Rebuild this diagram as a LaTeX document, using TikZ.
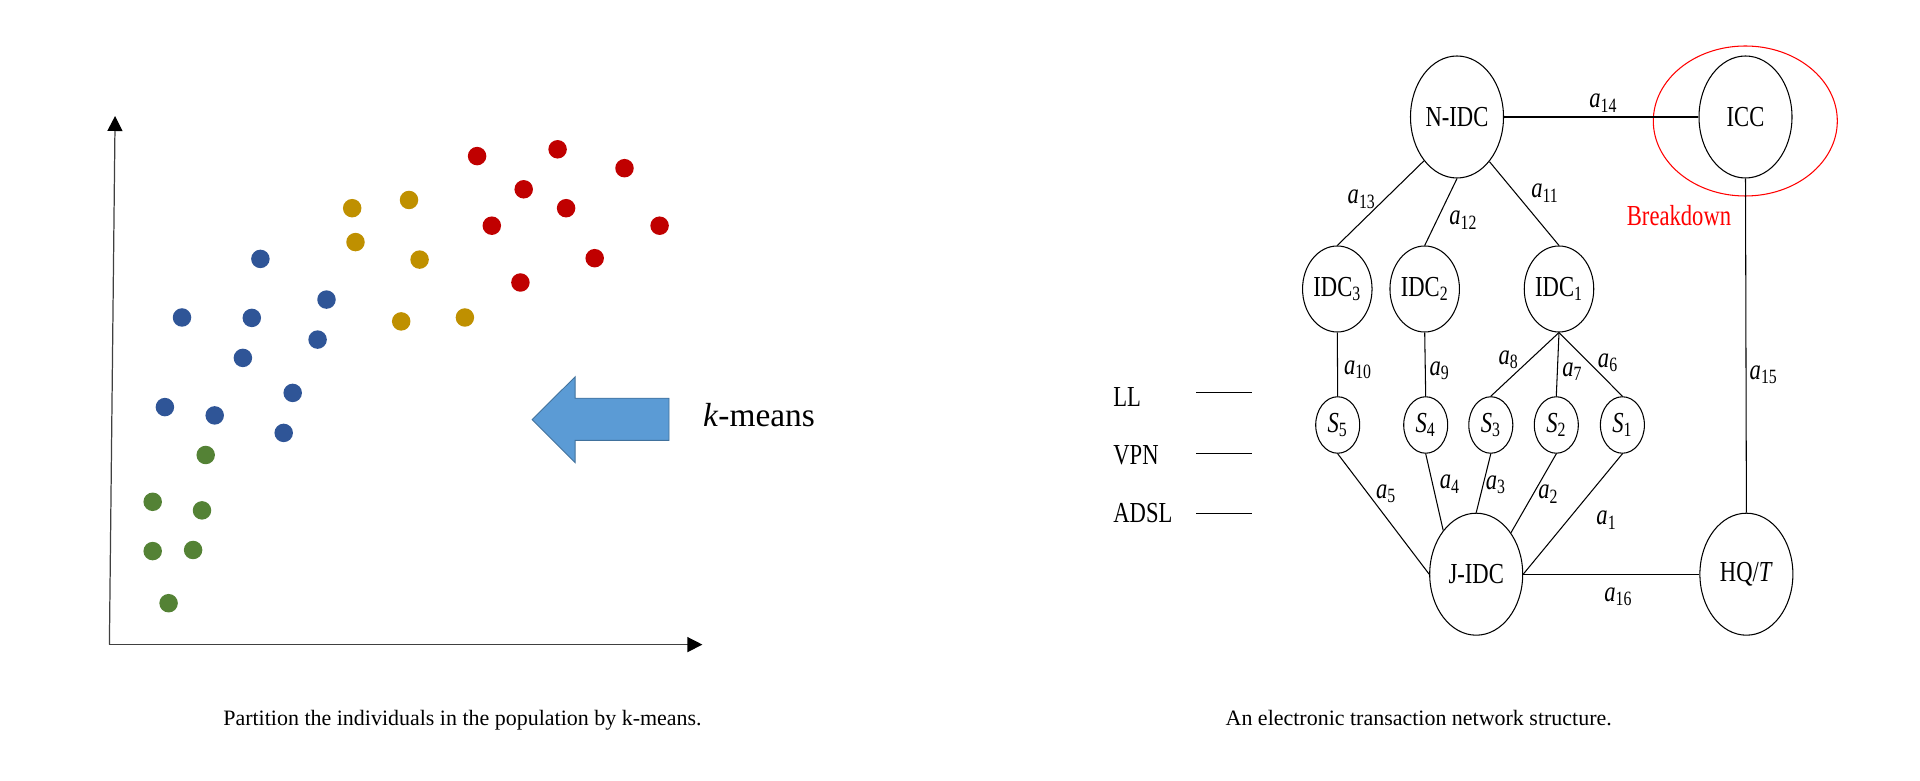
\documentclass[tikz,border=0pt]{standalone}
\usepackage{fontspec}
\setmainfont{Liberation Serif}
\newfontfamily\netfont[FakeStretch=0.78]{Liberation Serif}
\usetikzlibrary{shapes.geometric,arrows.meta}

\definecolor{dotred}{HTML}{C00000}
\definecolor{dotgold}{HTML}{BF9000}
\definecolor{dotblue}{HTML}{2F5597}
\definecolor{dotgreen}{HTML}{548235}
\definecolor{arrowfill}{HTML}{5B9BD5}
\definecolor{arrowline}{HTML}{41719C}

\newcommand{\lnk}[1]{\textit{a}\textsubscript{#1}}

\tikzset{
	axis/.style={draw=black!75, line width=0.7pt, -{Triangle[length=3mm,width=3mm,black]}},
	site/.style={ellipse, draw, line width=0.6pt, inner sep=0pt, font=\netfont\fontsize{16.5}{18}\selectfont},
	bigsite/.style={site, minimum width=18.6mm, minimum height=24.4mm},
	idcsite/.style={site, minimum width=13.9mm, minimum height=17.2mm},
	ssite/.style={site, minimum width=8.8mm, minimum height=11.3mm},
	link/.style={draw, line width=0.6pt},
	lbl/.style={inner sep=0pt, font=\netfont\fontsize{16.5}{18}\selectfont},
	caption/.style={inner sep=0pt, anchor=base, font=\fontsize{12.5}{14}\selectfont},
}

\begin{document}
\begin{tikzpicture}[x=0.2mm, y=-0.2mm]
\useasboundingbox (0,0) rectangle (1920,781);

%% k-means
\begin{scope}
	%% Koordinatensystem
	\coordinate (O) at (109.4,644.6);
	\draw[axis] (O) -- (115.1,116);
	\draw[axis] (O) -- (702.4,644.6);

	%% Punkte
	\foreach \p in {(477.1,156.1),(557.6,149.3),(624.5,168.2),(523.7,189.3),(566.1,208.2),(491.8,225.7),(659.6,225.7),(594.7,258.2),(520.4,282.5)}
		\fill[dotred] \p circle[radius=1.85mm];
	\foreach \p in {(352.2,208.2),(409,200),(355.5,242.1),(419.6,259.6),(401.2,321.4),(464.9,317.5)}
		\fill[dotgold] \p circle[radius=1.85mm];
	\foreach \p in {(260.4,258.9),(326.5,299.6),(182,317.5),(251.8,317.9),(317.6,339.6),(242.9,357.9),(292.7,392.9),(164.9,407.1),(214.7,415.4),(283.7,432.9)}
		\fill[dotblue] \p circle[radius=1.85mm];
	\foreach \p in {(205.7,455),(152.7,501.8),(202,510.4),(152.7,551.1),(193.1,550),(168.6,603.2)}
		\fill[dotgreen] \p circle[radius=1.85mm];

	%% Pfeil
	\draw[fill=arrowfill, draw=arrowline, line width=0.5pt] (532.2,419.6) -- (575.1,376.8) -- (575.1,398.2) -- (669,398.2) -- (669,440.4) -- (575.1,440.4) -- (575.1,462.5) -- cycle;
	\node[font=\fontsize{19}{22}\selectfont, inner sep=0pt, anchor=base] (kmeans) at (759,426.7) {\textit{k}-means};

	\node[caption] (cap1) at (462.5,726) {Partition the individuals in the population by k-means.};
\end{scope}


%% Netz
\begin{scope}
	%% Knoten
	\node[bigsite] (nidc) at (1457,117) {N-IDC};
	\node[bigsite] (icc) at (1745.5,117) {ICC};
	\node[bigsite] (jidc) at (1476.2,574.2) {J-IDC};
	\node[bigsite] (hq) at (1746.4,574.2) {HQ/\textit{T}};
	\node[idcsite] (idc3) at (1337.3,289) {IDC\textsubscript{3}};
	\node[idcsite] (idc2) at (1424.7,289) {IDC\textsubscript{2}};
	\node[idcsite] (idc1) at (1559,289) {IDC\textsubscript{1}};
	\node[ssite] (s5) at (1337.7,425) {\textit{S}\textsubscript{5}};
	\node[ssite] (s4) at (1425.7,425) {\textit{S}\textsubscript{4}};
	\node[ssite] (s3) at (1490.8,425) {\textit{S}\textsubscript{3}};
	\node[ssite] (s2) at (1556.3,425) {\textit{S}\textsubscript{2}};
	\node[ssite] (s1) at (1622.4,425) {\textit{S}\textsubscript{1}};
	\node[ellipse, draw=red, line width=0.6pt, minimum width=36.8mm, minimum height=30mm] (fault) at (1745.3,121) {};
	\node[lbl, text=red] (brk) at (1679,216) {Breakdown};

	%% Verbindungen
	\draw[link] (nidc.east) -- (icc.west);
	\draw[link] (nidc.233) -- (idc3.north);
	\draw[link] (nidc.south) -- (idc2.north);
	\draw[link] (nidc.306) -- (idc1.north);
	\draw[link] (idc3.south) -- (s5.north);
	\draw[link] (idc2.south) -- (s4.north);
	\draw[link] (idc1.south) -- (s3.north);
	\draw[link] (idc1.south) -- (s2.north);
	\draw[link] (idc1.south) -- (s1.north);
	\draw[link] (s5.south) -- (jidc.west);
	\draw[link] (s4.south) -- (jidc.127.7);
	\draw[link] (s3.south) -- (jidc.north);
	\draw[link] (s2.south) -- (jidc.50.6);
	\draw[link] (s1.south) -- (jidc.east);
	\draw[link] (jidc.east) -- (hq.west);
	\draw[link] (icc.south) -- (hq.north);

	%% Beschriftung
	\node[lbl] (t14) at (1603.3,103.3) {\lnk{14}};
	\node[lbl] (t13) at (1361.7,199.3) {\lnk{13}};
	\node[lbl] (t12) at (1463.3,220) {\lnk{12}};
	\node[lbl] (t11) at (1545,193.3) {\lnk{11}};
	\node[lbl] (t10) at (1358,370) {\lnk{10}};
	\node[lbl] (t9) at (1439.7,370.7) {\lnk{9}};
	\node[lbl] (t8) at (1508.6,360) {\lnk{8}};
	\node[lbl] (t7) at (1572.3,371.7) {\lnk{7}};
	\node[lbl] (t6) at (1608,362.7) {\lnk{6}};
	\node[lbl] (t5) at (1386.1,494) {\lnk{5}};
	\node[lbl] (t4) at (1449.9,484) {\lnk{4}};
	\node[lbl] (t3) at (1495.8,485) {\lnk{3}};
	\node[lbl] (t2) at (1548.4,494) {\lnk{2}};
	\node[lbl] (t1) at (1606.5,520) {\lnk{1}};
	\node[lbl] (t15) at (1763.7,375) {\lnk{15}};
	\node[lbl] (t16) at (1618.3,596.7) {\lnk{16}};

	%% Legende
	\node[lbl, anchor=west] (ll) at (1113,397) {LL};
	\node[lbl, anchor=west] (vpn) at (1113,455) {VPN};
	\node[lbl, anchor=west] (adsl) at (1113,513.3) {ADSL};
	\draw[link] (1196.3,392.3) -- +(56,0);
	\draw[link] (1196.3,453.3) -- +(56,0);
	\draw[link] (1196.3,513.3) -- +(56,0);

	\node[caption] (cap2) at (1418.7,726) {An electronic transaction network structure.};
\end{scope}

%\draw (current bounding box.south west) rectangle (current bounding box.north east);
\end{tikzpicture}
\end{document}
